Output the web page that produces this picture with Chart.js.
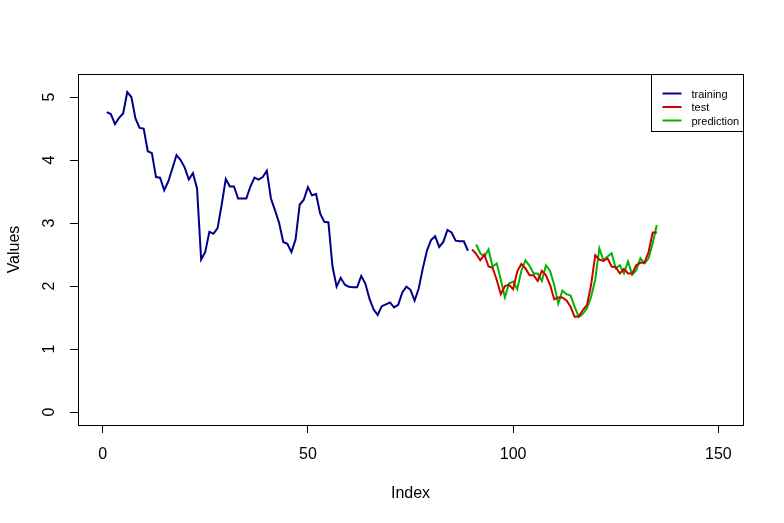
<!DOCTYPE html>
<html>
<head>
<meta charset="utf-8">
<script src="https://cdn.jsdelivr.net/npm/chart.js@4"></script>
<style>
  html, body { margin: 0; padding: 0; background: #fff; }
  #wrap { width: 784px; height: 523px; }
</style>
</head>
<body>
<div id="wrap"><canvas id="plot" width="784" height="523"></canvas></div>
<script>
// values
const trainingStart = 1;
const trainingValues = [
  4.76, 4.73, 4.57, 4.67, 4.74, 5.08, 5.00, 4.66, 4.51, 4.50,
  4.14, 4.11, 3.73, 3.72, 3.52, 3.66, 3.87, 4.08, 4.00, 3.88,
  3.69, 3.79, 3.55, 2.42, 2.54, 2.86, 2.83, 2.92, 3.29, 3.70,
  3.58, 3.58, 3.39, 3.39, 3.39, 3.58, 3.72, 3.69, 3.73, 3.83,
  3.39, 3.20, 3.00, 2.70, 2.67, 2.54, 2.74, 3.29, 3.37, 3.57,
  3.44, 3.46, 3.15, 3.02, 3.01, 2.31, 1.99, 2.13, 2.02, 1.99,
  1.98, 1.98, 2.16, 2.04, 1.80, 1.63, 1.54, 1.68, 1.71, 1.74,
  1.66, 1.70, 1.90, 1.99, 1.94, 1.77, 1.96, 2.28, 2.56, 2.73,
  2.79, 2.62, 2.70, 2.89, 2.85, 2.72, 2.71, 2.71, 2.56
];
const testStart = 90;
const testValues = [
  2.58, 2.51, 2.41, 2.50, 2.31, 2.29, 2.10, 1.87, 2.00, 2.02,
  1.95, 2.23, 2.35, 2.28, 2.17, 2.17, 2.08, 2.24, 2.17, 2.02,
  1.79, 1.82, 1.82, 1.77, 1.67, 1.51, 1.52, 1.62, 1.70, 2.02,
  2.49, 2.42, 2.40, 2.44, 2.31, 2.30, 2.20, 2.27, 2.20, 2.20,
  2.33, 2.37, 2.37, 2.54, 2.85, 2.85
];
const predictionStart = 91;
const predictionValues = [
  2.66, 2.52, 2.47, 2.58, 2.31, 2.36, 2.10, 1.82, 2.04, 2.07,
  1.95, 2.24, 2.41, 2.32, 2.20, 2.20, 2.08, 2.33, 2.24, 2.02,
  1.72, 1.93, 1.87, 1.85, 1.67, 1.51, 1.56, 1.65, 1.83, 2.10,
  2.60, 2.41, 2.47, 2.52, 2.28, 2.33, 2.20, 2.39, 2.18, 2.25,
  2.44, 2.36, 2.44, 2.68, 2.97
];
const xTicks = [0, 50, 100, 150];
const yTicks = [0, 1, 2, 3, 4, 5];
const seriesNames = ["training", "test", "prediction"];
const seriesColors = ["#00008B", "#CD0000", "#00B400"];

const fontFamily = "'Liberation Sans', Arial, sans-serif";

function toPoints(start, values) {
    return values.map((v, i) => ({ x: start + i, y: v }));
}

// R-style box around the plot region + legend in the top right corner
const boxAndLegend = {
    id: 'boxAndLegend',
    afterDraw(chart) {
        const ctx = chart.ctx;
        const a = chart.chartArea;
        ctx.save();
        ctx.strokeStyle = '#000';
        ctx.lineWidth = 1;
        ctx.strokeRect(a.left + 0.5, a.top + 0.5, a.right - a.left, a.bottom - a.top);

        // legend
        const w = 92, h = 57;
        const lx = a.right - w + 0.5, ly = a.top + 0.5;
        ctx.fillStyle = '#fff';
        ctx.fillRect(lx, ly, w, h);
        ctx.strokeRect(lx, ly, w, h);
        ctx.font = '11px ' + fontFamily;
        ctx.textBaseline = 'middle';
        ctx.textAlign = 'left';
        chart.data.datasets.forEach((ds, i) => {
            const y = ly + 19 + i * 13.5;
            ctx.strokeStyle = ds.borderColor;
            ctx.lineWidth = 2;
            ctx.beginPath();
            ctx.moveTo(lx + 11, y);
            ctx.lineTo(lx + 30, y);
            ctx.stroke();
            ctx.fillStyle = '#000';
            ctx.fillText(ds.label, lx + 40, y + 1);
        });
        ctx.restore();
    }
};

const ctx = document.getElementById("plot").getContext("2d");
const chart = new Chart(ctx, {
    type: "line",
    data: {
        datasets: [
            { label: seriesNames[0], data: toPoints(trainingStart, trainingValues), borderColor: seriesColors[0] },
            { label: seriesNames[1], data: toPoints(testStart, testValues), borderColor: seriesColors[1] },
            { label: seriesNames[2], data: toPoints(predictionStart, predictionValues), borderColor: seriesColors[2] }
        ]
    },
    options: {
        responsive: false,
        animation: false,
        events: [],
        layout: { padding: { left: 0, right: 41, top: 74, bottom: 0 } },
        elements: {
            line: { borderWidth: 2, tension: 0, fill: false },
            point: { radius: 0 }
        },
        plugins: {
            legend: { display: false },
            tooltip: { enabled: false }
        },
        scales: {
            x: {
                type: "linear",
                min: -6,
                max: 156,
                afterBuildTicks: (scale) => { scale.ticks = xTicks.map(v => ({ value: v })); },
                afterFit: (scale) => { scale.height = 98; },
                grid: { drawOnChartArea: false, drawTicks: true, tickLength: 8, color: '#000' },
                border: { display: true, color: '#000' },
                ticks: { color: '#000', padding: 12, font: { family: fontFamily, size: 16 }, maxRotation: 0 },
                title: { display: true, text: "Index", color: '#000', font: { family: fontFamily, size: 16 }, padding: { top: 0, bottom: 20 } }
            },
            y: {
                type: "linear",
                min: -0.206,
                max: 5.366,
                afterBuildTicks: (scale) => { scale.ticks = yTicks.map(v => ({ value: v })); },
                afterFit: (scale) => { scale.width = 78; },
                grid: { drawOnChartArea: false, drawTicks: true, tickLength: 8, color: '#000' },
                border: { display: true, color: '#000' },
                ticks: { color: '#000', padding: 16, crossAlign: 'center', minRotation: 90, maxRotation: 90, font: { family: fontFamily, size: 16 } },
                title: { display: true, text: "Values", color: '#000', font: { family: fontFamily, size: 16 }, padding: { top: 5, bottom: 0 } }
            }
        }
    },
    plugins: [boxAndLegend]
});
</script>
</body>
</html>
